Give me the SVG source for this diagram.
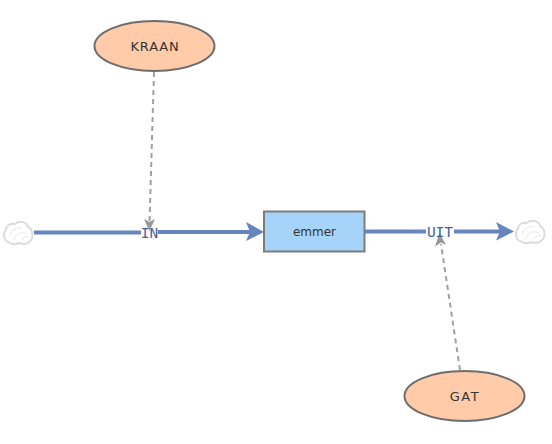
<svg xmlns="http://www.w3.org/2000/svg" width="552" height="444" viewBox="0 0 552 444">
<style>
text{font-family:"DejaVu Sans","Liberation Sans",sans-serif;font-size:12px;text-anchor:middle;fill:#333}
.caps{font-size:13px;letter-spacing:.8px}
.aux{fill:#ffcba9;stroke:#6d6d6d;stroke-width:2}
.flow{fill:none;stroke:#6585bd;stroke-width:3.800}
.head{fill:#6585bd}
.link{fill:none;stroke:#a0a0a0;stroke-width:2;stroke-dasharray:5 4}
.linkhead{fill:#989898}
.cloud{fill:#fff;stroke:#dcdcdc;stroke-width:2}
.puff{fill:none;stroke:#e8e8e8;stroke-width:1}
text.flowlabel{fill:#3f5f9f;font-family:"DejaVu Sans Mono","Liberation Mono",monospace;font-size:14.500px}
</style>
<g id="connectors">
<path class="flow" d="M34 232.500H141M158 232H250"/>
<path class="head" d="M264 232L246 222L250 232L246 241Z"/>
<path class="flow" d="M365 231.500H426M454 231.500H500"/>
<path class="head" d="M514 231.500L496 222L500 231.500L496 240.500Z"/>
<path class="link" d="M154 72L149.500 222"/>
<path class="linkhead" d="M149.300 231L144 219L149.500 222L155 219Z"/>
<path class="link" d="M460 370L441 244"/>
<path class="linkhead" d="M439.500 233L446 245L441 242.500L435 246.500Z"/>
</g>
<g id="cloud-left">
<path class="cloud" d="M8 242C3 240 3 232 6 230C6 225 11 223 15 224C20 220 27 222 28 227C33 229 34 238 30 241C27 245 22 244 19 243C15 245 11 244 8 242Z"/>
<path class="puff" d="M10 236C11 230 17 227 22 228M14 240C15 234 20 231 27 234M22 240C23 237 26 236 29 237"/>
</g>
<g id="cloud-right">
<path class="cloud" d="M520 241C515 239 515 231 518 229C518 224 523 222 527 223C532 219 539 221 540 226C545 228 546 237 542 240C539 244 534 243 531 242C527 244 523 243 520 241Z"/>
<path class="puff" d="M522 235C523 229 529 226 534 227M526 239C527 233 532 230 539 233M534 239C535 236 538 235 541 236"/>
</g>
<g id="node-kraan">
<ellipse class="aux" cx="154.500" cy="46" rx="60" ry="25"/>
<text class="caps" x="155" y="51">KRAAN</text>
</g>
<g id="node-emmer">
<rect x="264" y="211.500" width="100.500" height="40" fill="#a5d4f8" stroke="#7d7d7d" stroke-width="2"/>
<text x="314.500" y="236">emmer</text>
</g>
<g id="node-gat">
<ellipse class="aux" cx="464.500" cy="396" rx="60" ry="25"/>
<text class="caps" x="465" y="401" style="letter-spacing:1.500px">GAT</text>
</g>
<g id="flow-in"><text class="flowlabel" x="149.500" y="237.500">IN</text></g>
<g id="flow-uit"><text class="flowlabel" x="440" y="236.500">UIT</text></g>
</svg>
